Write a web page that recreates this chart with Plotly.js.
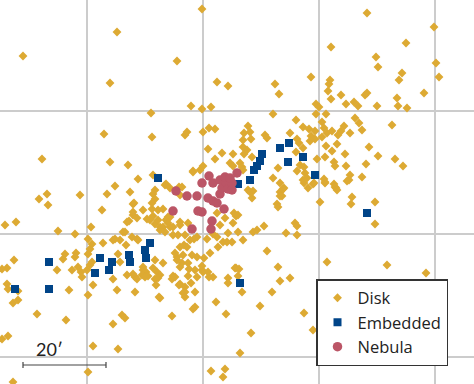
<!DOCTYPE html>
<html>
<head>
<meta charset="utf-8">
<script src="https://cdn.plot.ly/plotly-3.0.1.min.js"></script>
<style>html,body{margin:0;padding:0;background:#fff;}#chart{width:474px;height:384px;}</style>
</head>
<body>
<div id="chart"></div>
<script>
// Positions (sky offsets, arbitrary units; y grows downward)
const seriesNames = ["Disk", "Embedded", "Nebula"];

const diskPts = [
[23,56],[117,32],[202,9],[177,61],[110,83],[217,82],[228,86],[191,106],[202,109],[211,107],
[367,13],[434,27],[331,47],[406,43],[376,57],[378,67],[402,73],[399,80],[436,63],[439,77],[424,93],
[311,77],[330,80],[329,84],[328,91],[331,99],[341,95],[346,104],[354,102],[358,106],[365,95],[367,93],[377,106],[397,98],[398,106],[407,108],
[275,84],[279,94],[316,104],[319,107],
[151,113],[104,134],[152,137],[185,135],[187,132],[209,128],[215,129],[203,132],[208,149],[222,153],[233,154],[215,159],[230,163],[233,166],[203,166],[200,170],[193,171],[42,159],[110,162],[128,165],[138,179],[153,175],[166,184],[170,188],[179,187],[115,186],[182,187],
[273,114],[316,114],[326,114],[296,120],[355,118],[359,123],[362,130],[392,125],[303,127],[309,129],[315,131],[322,122],[324,128],[327,133],[332,131],[344,126],[341,131],[338,135],[350,133],[311,136],[315,139],[322,137],[290,133],[297,139],[299,143],[326,146],[337,144],[332,151],[325,157],[345,154],[369,147],[378,156],[395,159],[403,166],[366,164],[334,162],[335,166],[346,166],[362,177],[350,175],[349,180],[324,179],[325,183],[334,184],[336,188],[317,159],[305,173],[307,178],[304,183],[297,171],[304,167],[278,168],[273,178],[284,188],[314,183],[265,135],[267,138],[248,126],[250,132],[244,133],[243,140],[251,139],[243,147],[247,150],[252,157],[244,154],[240,163],[242,167],[243,170],[310,141],[303,148],[296,152],[300,165],[280,192],[282,196],[253,191],[248,190],[252,198],[303,180],[308,188],[280,183],
[39,199],[48,205],[47,194],[80,195],[107,194],[102,210],[153,194],[155,199],[133,204],[143,210],[152,209],[153,216],[163,209],[168,217],[5,225],[16,222],[58,231],[75,234],[91,227],[88,239],[103,243],[115,239],[125,232],[132,237],[137,239],[129,221],[133,215],[147,219],[155,224],[160,227],[166,220],[170,227],[180,222],[173,235],[184,245],[197,237],[207,239],[213,234],[227,242],[192,255],[177,257],[182,263],[189,269],[202,270],[209,277],[197,277],[180,284],[185,287],[183,293],[195,292],[172,279],[157,272],[155,279],[146,272],[135,277],[143,267],[137,279],[160,298],[135,292],[117,290],[88,295],[69,290],[65,254],[63,259],[76,253],[75,257],[72,270],[57,270],[78,267],[81,272],[82,277],[87,270],[90,265],[92,262],[88,254],[90,249],[92,244],[118,254],[120,262],[113,279],[127,275],[133,274],[14,260],[7,268],[2,269],[7,284],[8,289],[18,291],[93,285],[126,245],
[130,192],[155,190],[165,185],[180,195],[193,172],[134,203],[133,212],[152,203],[158,210],[127,222],[137,218],[150,220],[158,220],[163,227],[167,219],[170,217],[168,223],[165,232],[160,230],[173,227],[180,225],[188,223],[178,235],[185,235],[190,240],[194,239],[217,237],[223,242],[218,247],[210,253],[204,258],[197,257],[187,247],[180,247],[175,253],[183,255],[177,260],[180,267],[188,263],[195,270],[202,266],[208,272],[188,276],[163,263],[155,260],[153,268],[143,270],[148,276],[123,232],[138,240],[120,240],[113,240],[220,225],[225,218],[217,213],[238,215],[233,223],[238,232],[228,233],[235,268],[238,276],[228,278],[213,277],
[142,275],[145,277],[160,275],[158,278],[156,285],[159,297],[173,276],[175,277],[191,283],[179,285],[185,292],[185,297],[228,283],[203,272],
[250,192],[283,189],[280,196],[277,204],[278,207],[313,184],[325,182],[335,187],[337,190],[347,181],[352,197],[351,204],[320,202],[375,202],[375,224],[264,226],[257,230],[253,232],[295,223],[297,226],[286,233],[297,235],[243,240],[232,242],[267,251],[327,262],[236,268],[278,267],[290,278],[280,281],[387,265],[426,273],[239,269],[242,292],[272,292],[234,213],[236,216],
[13,303],[18,300],[37,314],[66,320],[122,315],[125,318],[113,324],[172,316],[193,309],[195,307],[216,302],[226,314],[2,339],[8,336],[93,346],[118,349],[88,372],[13,382],[211,371],[225,369],[223,377],[240,353],[260,306],[304,313],[313,330],[251,333]
];

const embeddedPts = [
[15,289],[49,262],[49,289],[95,273],[100,258],[109,270],[112,262],[129,255],[130,262],[145,250],[150,243],[146,258],
[158,178],[238,184],[250,180],[254,170],[257,166],[260,161],[262,154],[280,148],[289,143],[288,162],[303,157],[315,175],[367,213],[240,283]
];

const nebulaPts = [
[173,211],[176,191],[187,196],[192,229],[197,196],[198,211],[202,183],[202,212],[208,198],[209,176],[212,221],[211,229],[213,183],[213,201],[217,203],[220,180],[220,194],[222,188],[224,209],[226,182],[228,189],[232,183],[232,190],[237,173],[225,177],[230,178]
];

const scaleBarLabel = "20′";
const scaleBar = {x0: 23, x1: 106, y: 365, labelX: 49, labelY: 349};

const colors = {Disk: "#DDAA33", Embedded: "#004488", Nebula: "#BB5566"};

function tr(name, pts, symbol, size) {
  return {
    type: "scatter", mode: "markers", name: name,
    x: pts.map(p => p[0]), y: pts.map(p => p[1]),
    marker: {symbol: symbol, size: size, color: colors[name], line: {width: 0}},
    hoverinfo: "skip"
  };
}

const data = [
  tr(seriesNames[0], diskPts, "diamond", 6.8),
  tr(seriesNames[1], embeddedPts, "square", 8),
  tr(seriesNames[2], nebulaPts, "circle", 9.5)
];

const font = "Lato, 'Open Sans', sans-serif";
const legendFont = "'Open Sans', Lato, sans-serif";

const layout = {
  width: 474, height: 384,
  margin: {l: 0, r: 0, t: 0, b: 0},
  paper_bgcolor: "#fff", plot_bgcolor: "#fff",
  showlegend: true,
  xaxis: {range: [0, 474], tick0: 87, dtick: 116, showticklabels: false, ticks: "",
          showgrid: true, gridcolor: "#cccccc", gridwidth: 1.5, zeroline: false, showline: false},
  yaxis: {range: [384, 0], tick0: 111, dtick: 123, showticklabels: false, ticks: "",
          showgrid: true, gridcolor: "#cccccc", gridwidth: 1.5, zeroline: false, showline: false},
  legend: {x: 316/474, y: 1 - 279/384, xanchor: "left", yanchor: "top",
           bgcolor: "#ffffff", bordercolor: "#333333", borderwidth: 1.5,
           font: {family: legendFont, size: 16.5, color: "#222"}},
  shapes: [
    {type: "line", xref: "x", yref: "y", x0: scaleBar.x0, x1: scaleBar.x1, y0: scaleBar.y, y1: scaleBar.y, line: {color: "#444", width: 1.2}},
    {type: "line", xref: "x", yref: "y", x0: scaleBar.x0, x1: scaleBar.x0, y0: scaleBar.y - 3, y1: scaleBar.y + 3, line: {color: "#444", width: 1.2}},
    {type: "line", xref: "x", yref: "y", x0: scaleBar.x1, x1: scaleBar.x1, y0: scaleBar.y - 3, y1: scaleBar.y + 3, line: {color: "#444", width: 1.2}}
  ],
  annotations: [
    {xref: "x", yref: "y", x: scaleBar.labelX, y: scaleBar.labelY, text: scaleBarLabel, showarrow: false,
     font: {family: font, size: 18, color: "#222"}, xanchor: "center", yanchor: "middle"}
  ]
};

Plotly.newPlot("chart", data, layout, {staticPlot: true, displayModeBar: false});
</script>
</body>
</html>
